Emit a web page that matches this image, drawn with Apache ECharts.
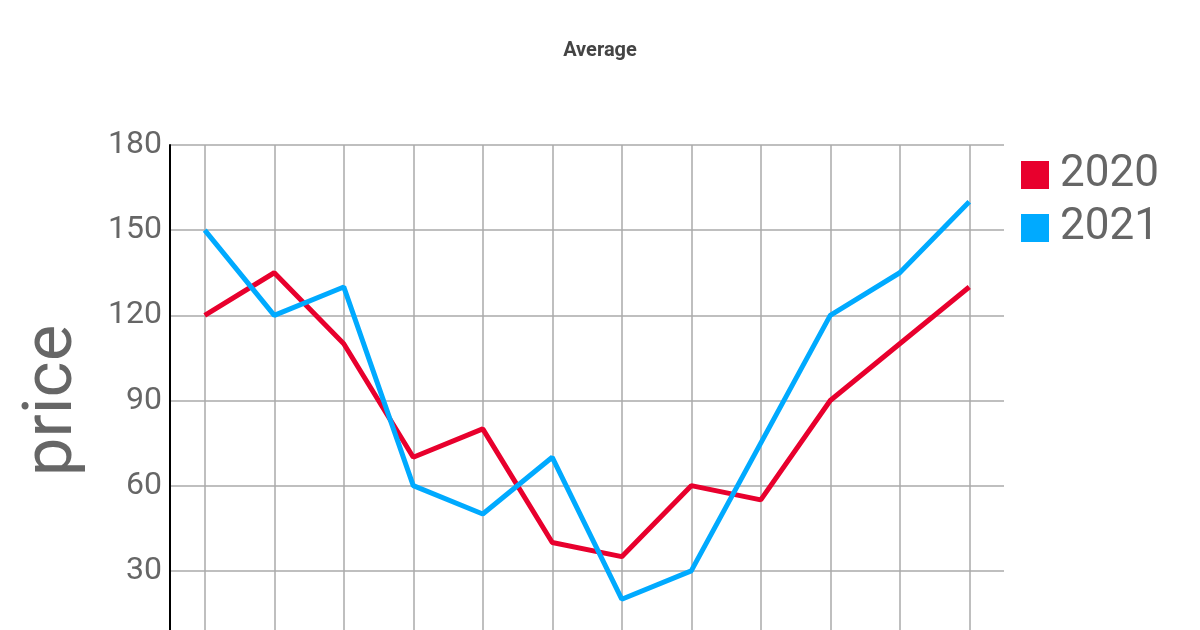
<!DOCTYPE html>
<html><head><meta charset="utf-8">
<script src="https://cdn.jsdelivr.net/npm/echarts@6/dist/echarts.min.js"></script>
<style>html,body{margin:0;padding:0;background:#fff}#c{width:1200px;height:630px}</style>
</head><body><div id="c"></div>
<script>
const categories = ['Jan','Feb','Mar','Apr','May','Jun','Jul','Aug','Sep','Oct','Nov','Dec'];
const yTicks = [0, 30, 60, 90, 120, 150, 180];
const values2020 = [120, 135, 110, 70, 80, 40, 35, 60, 55, 90, 110, 130];
const values2021 = [150, 120, 130, 60, 50, 70, 20, 30, 75, 120, 135, 160];

const chart = echarts.init(document.getElementById('c'), null, {renderer:'canvas'});
chart.setOption({
  animation: false,
  title: {text: 'Average', left: 'center', top: 36, textStyle:{fontFamily:'Roboto', fontSize:20, fontWeight:'bold', color:'#444'}},
  legend: {
    orient:'vertical', left: 1016, top: 148, itemWidth: 28, itemHeight: 28, itemGap: 9,
    icon: 'rect',
    textStyle:{fontFamily:'Roboto', fontSize:44, color:'#666', padding:[0,0,0,6]},
    data:['2020','2021']
  },
  grid: {left: 170, top: 145, width: 834, height: 511, containLabel:false, outerBoundsMode:'none'},
  xAxis: {
    type:'category', data: categories, boundaryGap:true,
    axisLine:{show:false}, axisTick:{show:false}, axisLabel:{show:false},
    splitLine:{show:true, alignWithLabel:true, lineStyle:{color:'#aaa', width:1.5}}
  },
  yAxis: {
    type:'value', min: yTicks[0], max: yTicks[yTicks.length-1], interval: 30,
    name:'price', nameLocation:'middle', nameGap: 82, nameRotate: 90,
    nameTextStyle:{fontFamily:'Roboto', fontSize:69, color:'#666'},
    axisLine:{show:true, lineStyle:{color:'#000', width:2}},
    axisTick:{show:false},
    axisLabel:{fontFamily:'Roboto', fontSize:32, color:'#666', margin:8},
    splitLine:{show:true, lineStyle:{color:'#aaa', width:1.5}}
  },
  series: [
    {name:'2020', type:'line', data: values2020, showSymbol:false, symbol:'none', color:'#e8002d', lineStyle:{width:5, color:'#e8002d'}},
    {name:'2021', type:'line', data: values2021, showSymbol:false, symbol:'none', color:'#00aaff', lineStyle:{width:5, color:'#00aaff'}}
  ]
});
</script></body></html>
